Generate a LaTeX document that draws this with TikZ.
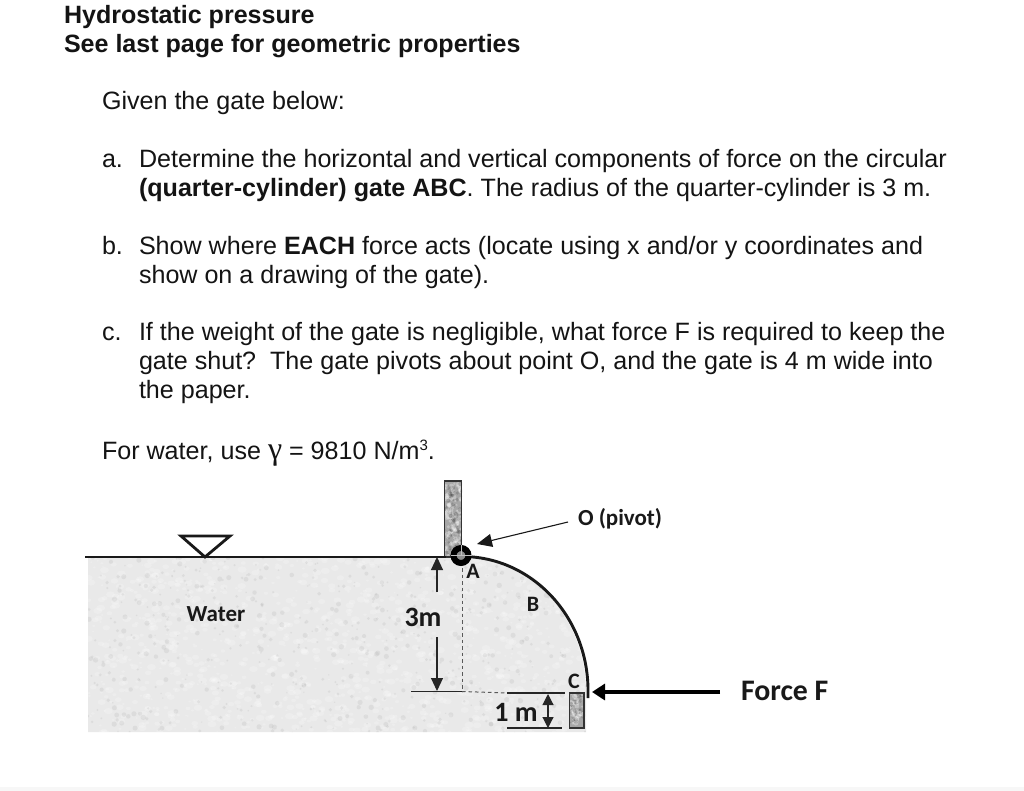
\documentclass[tikz,border=0pt]{standalone}
\usepackage{fontspec}
\setmainfont{Liberation Sans}
\newfontfamily\lblfont{Carlito}
\newfontfamily\gamfont{Liberation Serif}
\usetikzlibrary{arrows.meta}
\definecolor{waterbase}{HTML}{E9E9E9}
\definecolor{platebase}{HTML}{A6A6A6}
\tikzset{
  body/.style={anchor=base west,inner sep=0pt,outer sep=0pt,font=\fontsize{25.1}{29}\selectfont,text=black!92},
  head/.style={body,font=\bfseries\fontsize{25.05}{29}\selectfont},
  lbl/.style={inner sep=0pt,outer sep=0pt,font=\lblfont\bfseries\fontsize{23}{27}\selectfont,text=black!90},
  small lbl/.style={lbl,font=\lblfont\bfseries\fontsize{22}{24}\selectfont},
  big lbl/.style={lbl,font=\lblfont\bfseries\fontsize{28}{30}\selectfont},
  dimline/.style={line width=1.1pt,black!85},
  dim arrow/.style={dimline,-{Stealth[length=13pt,width=12pt,inset=0pt]}},
  thin arrow/.style={line width=1.1pt,black!90,-{Stealth[length=15pt,width=13pt,inset=0pt]}},
  force arrow/.style={line width=4pt,black,-{Stealth[length=13pt,width=16pt,inset=0pt]}},
  guide/.style={line width=1pt,black!65,dash pattern=on 3.5pt off 3pt},
  plate/.style={draw=black!80,line width=1.6pt},
}
\begin{document}
\begin{tikzpicture}[x=1pt,y=-1pt]
\useasboundingbox (0,0) rectangle (1024,791);
\fill[white] (0,0) rectangle (1024,791);
\fill[black!3] (0,787) rectangle (1024,791);
% text
\node[head] (t1) at (64,24) {Hydrostatic pressure};
\node[head] (t2) at (64,53) {See last page for geometric properties};
\node[body] (t3) at (102,110) {Given the gate below:};
\node[body] (am) at (102,167.7) {a.};
\node[body] (a1) at (139,167.7) {Determine the horizontal and vertical components of force on the circular};
\node[body] (a2) at (139,196.7) {\textbf{(quarter-cylinder) gate ABC}. The radius of the quarter-cylinder is 3 m.};
\node[body] (bm) at (102,254.5) {b.};
\node[body] (b1) at (139,254.5) {Show where \textbf{EACH} force acts (locate using x and/or y coordinates and};
\node[body] (b2) at (139,283.5) {show on a drawing of the gate).};
\node[body] (cm) at (102,340.5) {c.};
\node[body] (c1) at (139,340.5) {If the weight of the gate is negligible, what force F is required to keep the};
\node[body] (c2) at (139,369.5) {gate shut?\ \ The gate pivots about point O, and the gate is 4 m wide into};
\node[body] (c3) at (139,398.5) {the paper.};
\node[body] (fw) at (102,459) {For water, use {\gamfont\fontsize{32}{29}\selectfont γ} = 9810 N/m\raisebox{9pt}{\fontsize{15}{15}\selectfont 3}.};
% water
\begin{scope}
\clip (88,557) -- (462,557) arc[start angle=-90,end angle=0,x radius=124,y radius=135] -- (586,732) -- (88,732) -- cycle;
\fill[waterbase] (80,550) rectangle (600,740);
\pgfmathsetseed{17}
\foreach \i in {1,...,1300}{
  \pgfmathsetmacro{\xa}{88+rnd*500}
  \pgfmathsetmacro{\ya}{557+rnd*176}
  \pgfmathsetmacro{\sa}{1+rnd*3.5}
  \fill[white,opacity=0.22] (\xa,\ya) ellipse[x radius=\sa,y radius=\sa*0.7];
}
\foreach \i in {1,...,600}{
  \pgfmathsetmacro{\xa}{88+rnd*500}
  \pgfmathsetmacro{\ya}{557+rnd*176}
  \pgfmathsetmacro{\sa}{0.7+rnd*2}
  \fill[black!35,opacity=0.18] (\xa,\ya) circle[radius=\sa];
}
\end{scope}
% plates
\begin{scope}
\clip (444,481) rectangle (462,557);
\fill[platebase] (444,481) rectangle (462,557);
\pgfmathsetseed{5}
\foreach \i in {1,...,90}{
  \pgfmathsetmacro{\xa}{444+rnd*18}
  \pgfmathsetmacro{\ya}{481+rnd*76}
  \pgfmathsetmacro{\sa}{1+rnd*2}
  \fill[white,opacity=0.3] (\xa,\ya) circle[radius=\sa];
  \fill[black,opacity=0.14] (\xa+rnd*8-4,\ya+rnd*8-4) circle[radius=\sa*0.8];
}
\end{scope}
\draw[plate] (444.5,481) rectangle (461.5,557);
\begin{scope}
\clip (569,693) rectangle (584,728);
\fill[platebase] (569,693) rectangle (584,728);
\pgfmathsetseed{9}
\foreach \i in {1,...,40}{
  \pgfmathsetmacro{\xa}{569+rnd*15}
  \pgfmathsetmacro{\ya}{693+rnd*35}
  \pgfmathsetmacro{\sa}{1+rnd*2}
  \fill[white,opacity=0.3] (\xa,\ya) circle[radius=\sa];
  \fill[black,opacity=0.14] (\xa+rnd*6-3,\ya+rnd*6-3) circle[radius=\sa*0.8];
}
\end{scope}
\draw[plate] (569.5,693) rectangle (584,728);
% free surface
\coordinate (wl) at (85,557);
\coordinate (wr) at (446,557);
\draw[line width=1.8pt,black!90] (wl) -- (wr);
\coordinate (tl) at (181,536);
\coordinate (tr) at (230,536);
\coordinate (tb) at (205,557);
\draw[line width=2.8pt,black!90,line join=miter] (tl) -- (tr) -- (tb) -- cycle;
% gate
\coordinate (A) at (462,556.5);
\coordinate (gateC) at (588,698);
\draw[line width=2.9pt,black!90] (A) arc[start angle=-90,end angle=0,x radius=126,y radius=134] -- (gateC);
% pivot
\node[circle,draw=black,line width=6pt,fill=black!45,minimum size=15pt,inner sep=0pt] (O) at (461,555.5) {};
\draw[line width=1pt,white!75!black] (O.west) -- (O.east) (O.center) -- (O.north);
% dimensions
\coordinate (oc) at (462,691.5);
\coordinate (dl) at (411,691.5);
\coordinate (gr) at (565,693);
\coordinate (bl) at (507,728);
\coordinate (br) at (562,728);
\coordinate (gt) at (462,568);
\draw[guide] (gt) -- (oc);
\draw[guide] (oc) -- (507,693);
\draw[dimline] (dl) -- (oc);
\draw[dimline] (507,693) -- (gr);
\draw[dimline,line width=1.3pt] (bl) -- (br);
\node[big lbl] (three) at (423,617) {3m};
\draw[dim arrow] (437,592) -- (437,557);
\draw[dim arrow] (437,637) -- (437,691);
\node[big lbl] (one) at (516,712) {1 m};
\coordinate (m1) at (548,711);
\draw[dim arrow,-{Stealth[length=11pt,width=11pt,inset=0pt]}] (m1) -- (548,694);
\draw[dim arrow,-{Stealth[length=11pt,width=11pt,inset=0pt]}] (m1) -- (548,728);
% labels
\node[lbl] (water) at (216,614) {Water};
\node[small lbl] (la) at (473,571) {A};
\node[small lbl] (lb) at (533,604) {B};
\node[small lbl] (lc) at (574,681) {C};
\node[lbl,anchor=west,font=\lblfont\bfseries\fontsize{23}{26}\selectfont] (piv) at (578,519) {O (pivot)};
\node[lbl,anchor=west,font=\lblfont\bfseries\fontsize{29.8}{30}\selectfont] (ff) at (741,691) {Force F};
\coordinate (os) at (568,522);
\coordinate (ot) at (477,544);
\draw[thin arrow] (os) -- (ot);
\coordinate (fs) at (720,692);
\coordinate (ft) at (592,692);
\draw[force arrow] (fs) -- (ft);
\end{tikzpicture}
\end{document}
